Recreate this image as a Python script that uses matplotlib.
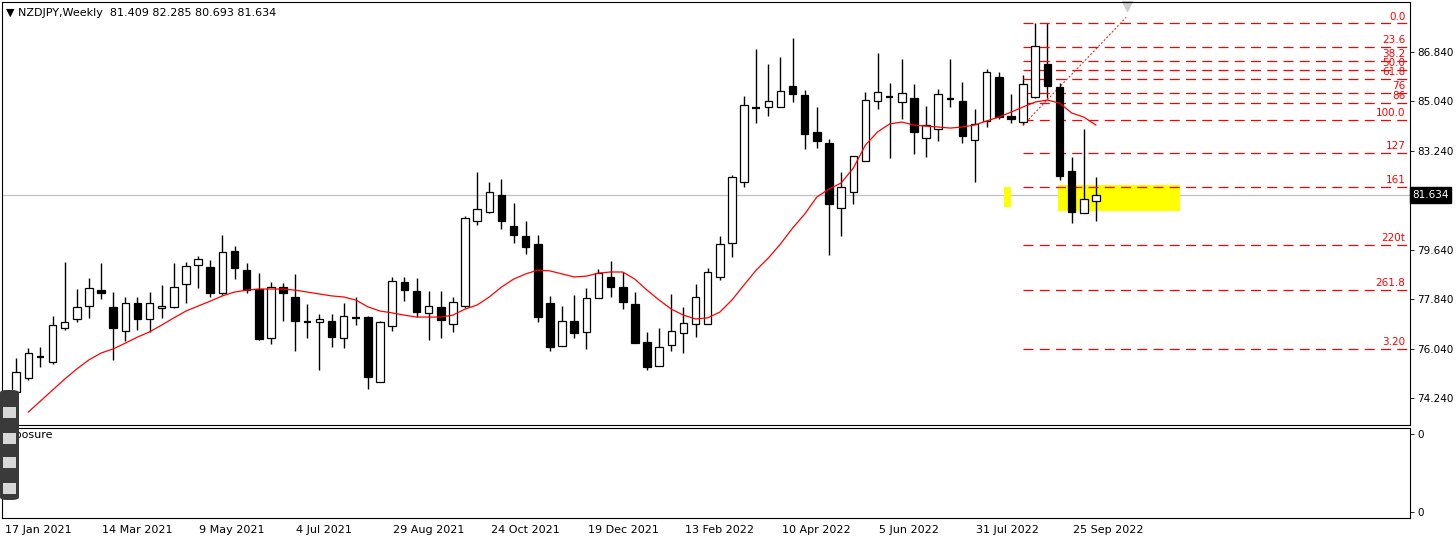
import matplotlib.pyplot as plt
from matplotlib.patches import Rectangle, FancyBboxPatch

# weekly OHLC
opens = [74.46, 74.97, 75.72, 75.55, 76.79, 77.12, 77.59, 78.17, 77.56, 76.68,
         77.70, 77.12, 77.52, 77.56, 78.39, 79.08, 79.01, 78.06, 79.59, 78.90,
         78.21, 76.43, 78.28, 77.92, 77.02, 77.01, 77.05, 76.43, 77.17, 77.19,
         74.82, 76.86, 78.46, 78.14, 77.34, 77.56, 76.94, 77.59, 80.69, 81.01,
         81.63, 80.50, 80.14, 79.85, 77.70, 76.14, 77.05, 76.65, 77.88, 78.65,
         78.28, 77.66, 76.28, 75.41, 76.17, 76.61, 76.94, 76.94, 78.65, 79.88,
         82.11, 84.81, 84.84, 84.84, 85.60, 85.27, 83.93, 83.52, 81.16, 81.74,
         82.87, 85.05, 85.21, 85.02, 85.16, 83.71, 84.03, 85.14, 85.05, 83.63,
         84.33, 85.93, 84.51, 84.29, 85.20, 86.40, 85.56, 82.51, 80.98, 81.409]
highs = [75.70, 76.06, 76.10, 77.23, 79.19, 78.21, 78.61, 79.16, 78.10, 77.92,
         77.92, 78.10, 78.36, 79.16, 79.19, 79.41, 79.27, 80.18, 79.78, 79.16,
         78.79, 78.46, 78.43, 78.76, 77.66, 77.30, 77.30, 77.70, 77.92, 77.23,
         77.05, 78.65, 78.65, 78.61, 78.14, 78.14, 77.92, 80.87, 82.47, 82.11,
         82.21, 81.34, 80.69, 80.18, 77.96, 77.59, 77.99, 78.25, 78.94, 79.23,
         78.83, 78.10, 76.65, 76.79, 78.03, 77.56, 78.39, 78.97, 80.14, 82.36,
         85.24, 86.95, 86.40, 86.66, 87.35, 85.45, 84.84, 83.67, 82.47, 83.05,
         85.38, 86.80, 85.71, 86.58, 85.67, 84.87, 85.49, 86.58, 85.75, 84.76,
         86.22, 86.11, 85.31, 86.00, 87.89, 87.89, 85.71, 83.01, 84.04, 82.285]
lows = [74.17, 74.90, 75.37, 75.48, 76.72, 77.01, 77.16, 77.85, 75.63, 76.32,
        76.72, 76.65, 77.16, 77.52, 77.70, 78.25, 77.92, 77.99, 78.57, 78.06,
        76.35, 76.21, 77.05, 75.95, 76.43, 75.26, 76.10, 76.06, 76.90, 74.57,
        74.82, 76.68, 77.77, 77.19, 76.35, 76.43, 76.65, 77.52, 80.54, 80.98,
        80.40, 79.88, 79.48, 77.01, 75.95, 76.14, 76.43, 76.03, 77.88, 77.92,
        77.48, 76.24, 75.26, 75.41, 75.95, 75.88, 76.46, 76.94, 78.54, 79.37,
        81.92, 84.25, 84.51, 84.84, 85.02, 83.31, 83.34, 79.45, 80.14, 81.30,
        82.87, 84.76, 82.98, 84.40, 83.12, 83.01, 83.60, 84.84, 83.52, 82.11,
        84.11, 84.40, 84.25, 84.18, 85.16, 85.16, 82.18, 80.61, 80.98, 80.693]
closes = [75.19, 75.88, 75.70, 76.90, 77.01, 77.56, 78.25, 78.06, 76.79, 77.70,
          77.12, 77.70, 77.59, 78.28, 79.05, 79.30, 78.06, 79.56, 78.97, 78.17,
          76.39, 78.28, 78.06, 77.05, 77.00, 77.12, 76.46, 77.23, 77.16, 75.01,
          77.01, 78.50, 78.17, 77.37, 77.59, 77.08, 77.74, 80.80, 81.12, 81.74,
          80.69, 80.18, 79.74, 77.19, 76.10, 77.05, 76.61, 77.88, 78.79, 78.28,
          77.74, 76.24, 75.37, 76.10, 76.68, 76.97, 77.92, 78.83, 79.85, 82.29,
          84.91, 84.80, 85.05, 85.42, 85.31, 83.85, 83.60, 81.30, 81.92, 83.05,
          85.09, 85.38, 85.20, 85.34, 83.93, 84.18, 85.31, 85.13, 83.78, 84.22,
          86.11, 84.47, 84.40, 85.67, 87.06, 85.60, 82.32, 81.01, 81.49, 81.634]

# moving average (starts at second bar)
ma = [None, 73.73, 74.13, 74.53, 74.93, 75.30, 75.63, 75.88, 76.03, 76.24, 76.46,
      76.65, 76.90, 77.16, 77.41, 77.59, 77.77, 77.96, 78.10, 78.17, 78.21,
      78.21, 78.21, 78.17, 78.10, 78.03, 77.96, 77.92, 77.81, 77.56, 77.41,
      77.34, 77.26, 77.19, 77.19, 77.19, 77.26, 77.48, 77.63, 77.92, 78.28,
      78.57, 78.76, 78.90, 78.87, 78.76, 78.65, 78.68, 78.79, 78.83, 78.83,
      78.57, 78.17, 77.81, 77.48, 77.26, 77.12, 77.16, 77.37, 77.81, 78.36,
      78.90, 79.34, 79.85, 80.43, 80.94, 81.56, 81.85, 82.07, 82.61, 83.45,
      83.93, 84.22, 84.29, 84.18, 84.14, 84.11, 84.07, 84.11, 84.18, 84.33,
      84.47, 84.65, 84.84, 85.02, 85.09, 84.98, 84.62, 84.47, 84.18]

fib_labels = ['0.0', '23.6', '38.2', '50.0', '61.8', '76', '86', '100.0', '127', '161', '220t', '261.8', '3.20']
fib_prices = [87.89, 87.02, 86.51, 86.18, 85.86, 85.35, 84.98, 84.36, 83.16, 81.92, 79.81, 78.17, 76.03]
fib_start = 83

price_ticks = [86.840, 85.040, 83.240, 79.640, 77.840, 76.040, 74.240]
last_price = 81.634

date_labels = ['17 Jan 2021', '14 Mar 2021', '9 May 2021', '4 Jul 2021', '29 Aug 2021', '24 Oct 2021',
               '19 Dec 2021', '13 Feb 2022', '10 Apr 2022', '5 Jun 2022', '31 Jul 2022', '25 Sep 2022']
date_step = 8

fig = plt.figure(figsize=(14.56, 5.4), dpi=100)
ax = fig.add_axes([0.0015, 1 - 425 / 540, 0.967, 423 / 540])
ax2 = fig.add_axes([0.0015, 1 - 518 / 540, 0.967, 90 / 540])

ylo, yhi = 73.26, 88.66
ax.set_xlim(-1.15, 114.9)
ax.set_ylim(ylo, yhi)

# last price line
ax.axhline(last_price, color='#c0c0c0', lw=0.9, zorder=0)

# highlight zones
ax.add_patch(Rectangle((85.9, 81.05), 10.0, 0.95, color='#ffff00', lw=0, zorder=1))
ax.add_patch(Rectangle((81.45, 81.2), 0.55, 0.73, color='#ffff00', lw=0, zorder=1))

w = 0.62
for i in range(len(opens)):
    o, h, l, c = opens[i], highs[i], lows[i], closes[i]
    ax.vlines(i, l, h, color='black', lw=1.0, zorder=2)
    if abs(c - o) < 0.04:
        ax.hlines(o, i - w / 2, i + w / 2, color='black', lw=1.6, zorder=3)
    else:
        face = 'white' if c > o else 'black'
        ax.add_patch(Rectangle((i - w / 2, min(o, c)), w, abs(c - o),
                               facecolor=face, edgecolor='black', lw=0.9, zorder=3))

ax.plot([i for i in range(len(ma)) if ma[i] is not None],
        [m for m in ma if m is not None], color='red', lw=0.9, zorder=4)

# fibonacci
for lab, p in zip(fib_labels, fib_prices):
    ax.hlines(p, fib_start, 114.9, color='red', lw=0.9, linestyles=(0, (8, 5)), zorder=2)
    ax.text(114.5, p + 0.06, lab, color='red', fontsize=7.5, ha='right', va='bottom', zorder=5)
ax.plot([fib_start, 91.5], [84.18, 88.1], color='red', lw=0.7, ls=(0, (2, 2)), zorder=2)
ax.plot([91.6], [88.5], marker='v', color='#cccccc', ms=7, clip_on=False)

for a in (ax, ax2):
    a.set_xticks([])
    a.yaxis.tick_right()
    for s in a.spines.values():
        s.set_linewidth(0.8)

ax.set_yticks(price_ticks)
ax.set_yticklabels([f'{t:.3f}' for t in price_ticks], fontsize=7.5)
ax.tick_params(axis='y', length=3, width=0.6, pad=2)
ax.text(1.0015, (last_price - ylo) / (yhi - ylo), f'{last_price:.3f}', transform=ax.transAxes,
        fontsize=7.5, color='white', va='center', ha='left',
        bbox=dict(boxstyle='square,pad=0.25', fc='black', ec='black'))

ax.text(0.003, 0.975, '\u25bc NZDJPY,Weekly  81.409 82.285 80.693 81.634', transform=ax.transAxes,
        fontsize=8, va='center', ha='left')

ax2.set_xlim(-1.15, 114.9)
ax2.set_ylim(0, 1)
ax2.set_yticks([0.07, 0.93])
ax2.set_yticklabels(['0', '0'], fontsize=7.5)
ax2.tick_params(axis='y', length=3, width=0.6, pad=2)
ax2.text(0.0, 0.92, 'Exposure', transform=ax2.transAxes, fontsize=8, va='center', ha='left')

for k, lab in enumerate(date_labels):
    ax2.text(k * date_step - 0.9, -0.08, lab, fontsize=8, ha='left', va='top')

# side toolbar overlay
tb = FancyBboxPatch((0, 40 / 540), 19 / 1456, 110 / 540, boxstyle='round,pad=0,rounding_size=0.005',
                    transform=fig.transFigure, fc='#3a3a3a', ec='none', zorder=10)
fig.patches.append(tb)
for yy in (412, 438, 462, 488):
    fig.patches.append(Rectangle((3 / 1456, 1 - (yy + 6) / 540), 13 / 1456, 11 / 540,
                                 transform=fig.transFigure, fc='#d8d8d8', ec='none', zorder=11))

fig.savefig('out.png', dpi=100)
